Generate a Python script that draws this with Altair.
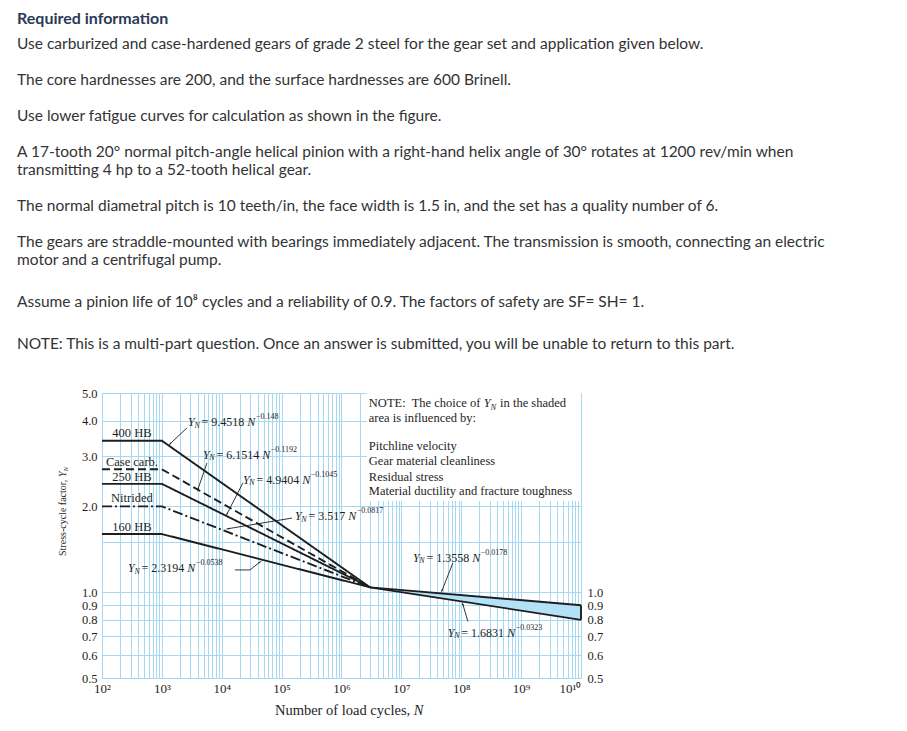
import math
import altair as alt
import pandas as pd

# ------------------------------------------------------------------ text block
HEADING = "Required information"
TEXT_LINES = [
    "Use carburized and case-hardened gears of grade 2 steel for the gear set and application given below.",
    "The core hardnesses are 200, and the surface hardnesses are 600 Brinell.",
    "Use lower fatigue curves for calculation as shown in the figure.",
    "A 17-tooth 20\u00b0 normal pitch-angle helical pinion with a right-hand helix angle of 30\u00b0 rotates at 1200 rev/min when",
    "transmitting 4 hp to a 52-tooth helical gear.",
    "The normal diametral pitch is 10 teeth/in, the face width is 1.5 in, and the set has a quality number of 6.",
    "The gears are straddle-mounted with bearings immediately adjacent. The transmission is smooth, connecting an electric",
    "motor and a centrifugal pump.",
    "Assume a pinion life of 10\u2078 cycles and a reliability of 0.9. The factors of safety are SF= SH= 1.",
    "NOTE: This is a multi-part question. Once an answer is submitted, you will be unable to return to this part.",
]

# ------------------------------------------------------------------ chart data
CURVE_NAMES = ["400 HB", "Case carb.", "250 HB", "Nitrided", "160 HB"]
CURVE_N = [1e2, 1e3, 3e6]                 # start, knee, junction
CURVE_PLATEAU = [3.40, 2.70, 2.40, 2.00, 1.60]
CURVE_JOIN_Y = 1.04
LIFE_N = [3e6, 1e10]
LIFE_UPPER = [1.04, 0.90]
LIFE_LOWER = [1.04, 0.80]

EQ_COEF = ["9.4518", "6.1514", "4.9404", "3.517", "2.3194", "1.3558", "1.6831"]
EQ_EXP = ["\u22120.148", "\u22120.1192", "\u22120.1045", "\u22120.0817", "\u22120.0538", "\u22120.0178", "\u22120.0323"]
EQ_N = [2.73e3, 4.85e3, 2.26e4, 1.67e5, 272, 1.56e7, 5.97e7]
EQ_Y = [3.95, 3.03, 2.48, 1.85, 1.216, 1.32, 0.72]

ARROW_N1 = [2.62e3, 5.66e3, 2.26e4, 1.49e5, 2.96e4, 7.24e7, 1.29e8]
ARROW_Y1 = [3.77, 2.84, 2.42, 1.82, 1.197, 1.266, 0.79]
ARROW_N2 = [1.36e3, 4.01e3, 1.22e4, 1.27e4, 4.35e4, 4.74e7, 1.06e8]
ARROW_Y2 = [3.31, 2.30, 1.88, 1.67, 1.277, 1.01, 0.909]
LEADER_N = [1.66e4, 2.96e4]
LEADER_Y = [1.197, 1.197]

LABEL_N = 316
LABEL_Y = [3.62, 2.87, 2.53, 2.14, 1.69]

NOTE_N = 2.86e6
NOTE_LINES = ["area is influenced by:", "Pitchline velocity", "Gear material cleanliness",
              "Residual stress", "Material ductility and fracture toughness"]
NOTE_Y = [4.61, 4.09, 3.26, 2.89, 2.54, 2.27]
NOTE_BOX = dict(N=2.65e6, N2=1e10, Y=2.09, Y2=5.0)

YTITLE_AT = (100, 1.34)
XTITLE_AT = (7.73e4, 0.5)

X_GRID = [m * 10 ** k for k in range(2, 10) for m in range(1, 10)] + [10 ** 10]
Y_GRID = [0.5, 0.6, 0.7, 0.8, 0.9, 1.0, 1.5, 2.0, 3.0, 4.0, 5.0]
Y_RIGHT = [0.5, 0.6, 0.7, 0.8, 0.9, 1.0]

# ------------------------------------------------------------------ styles
SERIF = "Liberation Serif"
SANS = "Lato"
INK = "#1e1e1e"
GRID = "#a6d8f1"
FILL = "#b3e2f6"
W, H = 479, 285
BLANK = "\u200b"

TIMES = {" ": 250, "\u00a0": 250, ",": 250, "-": 333, ".": 250, ":": 278, "=": 564, "\u2212": 564,
         "A": 722, "B": 667, "C": 667, "E": 611, "H": 722, "M": 889, "N": 722, "O": 722, "S": 556,
         "T": 611, "Y": 722, "a": 444, "b": 500, "c": 444, "d": 500, "e": 444, "f": 333, "g": 500,
         "h": 500, "i": 278, "l": 278, "m": 778, "n": 500, "o": 500, "r": 333, "s": 389, "t": 278,
         "u": 500, "y": 500}
TIMES_IT = {"Y": 556, "N": 667}


def tw(s, size, italic=False):
    tbl = TIMES_IT if italic else TIMES
    return sum(tbl.get(c, TIMES.get(c, 500)) for c in s) * size / 1000.0


sup = str.maketrans("0123456789", "\u2070\u00b9\u00b2\u00b3\u2074\u2075\u2076\u2077\u2078\u2079")
x_label_expr = " : ".join(
    f"datum.value == {10 ** k} ? '10{str(k).translate(sup)}'" for k in range(2, 11)
) + " : ''"

XS = alt.Scale(type="log", domain=[100, 1e10], nice=False)
YS = alt.Scale(type="log", domain=[0.5, 5], nice=False)
XAXIS = alt.Axis(values=X_GRID, labelExpr=x_label_expr, grid=True, gridColor=GRID, gridWidth=1,
                 ticks=False, domain=False, labelFont=SERIF, labelFontSize=13, labelColor=INK,
                 labelPadding=4, labelFlush=False, labelOverlap=False, title=None,
                 labelAlign={"condition": {"test": f"datum.value == {10 ** 10}", "value": "right"},
                             "value": "center"})
YAXIS = alt.Axis(values=Y_GRID, labelExpr="datum.value == 1.5 ? '' : format(datum.value, '.1f')",
                 grid=True, gridColor=GRID, gridWidth=1, ticks=False, domain=False,
                 labelFont=SERIF, labelFontSize=12.5, labelColor=INK, labelPadding=5,
                 labelOverlap=False, title=None)
RAXIS = alt.Axis(orient="right", values=Y_RIGHT, format=".1f", grid=False, ticks=False, domain=False,
                 labelFont=SERIF, labelFontSize=12.5, labelColor=INK, labelPadding=6,
                 labelOverlap=False, title=None)


def xe(f="N"):
    return alt.X(f"{f}:Q", scale=XS, axis=XAXIS)


def ye(f="Y"):
    return alt.Y(f"{f}:Q", scale=YS, axis=YAXIS)


layers = []

# white note box
layers.append(alt.Chart(pd.DataFrame([NOTE_BOX])).mark_rect(fill="white", stroke=None)
              .encode(x=xe(), x2="N2:Q", y=ye(), y2="Y2:Q"))

# shaded long-life band
life_wide = pd.DataFrame({"N": LIFE_N, "upper": LIFE_UPPER, "lower": LIFE_LOWER})
layers.append(alt.Chart(life_wide).mark_area(color=FILL, opacity=1)
              .encode(x=xe(), y=ye("upper"), y2="lower:Q"))

# hardness curves
rows = []
for name, plat in zip(CURVE_NAMES, CURVE_PLATEAU):
    for n, y in zip(CURVE_N, [plat, plat, CURVE_JOIN_Y]):
        rows.append({"curve": name, "N": n, "Y": y})
curves = pd.DataFrame(rows)
layers.append(alt.Chart(curves).mark_line(color=INK, strokeWidth=1.9).encode(
    x=xe(), y=ye(), detail="curve:N",
    strokeDash=alt.StrokeDash("curve:N", legend=None,
                              scale=alt.Scale(domain=CURVE_NAMES,
                                              range=[[1, 0], [8, 4], [1, 0], [10, 3, 2, 3], [1, 0]]))))

# lower bound line of the band
lower_df = pd.DataFrame({"N": LIFE_N, "Y": LIFE_LOWER})
layers.append(alt.Chart(lower_df).mark_line(color=INK, strokeWidth=1.9).encode(x=xe(), y=ye()))

# closing edge of the band at 1e10
edge = pd.DataFrame({"N": [LIFE_N[-1]], "Y": [LIFE_UPPER[-1]], "Y2": [LIFE_LOWER[-1]]})
layers.append(alt.Chart(edge).mark_rule(color=INK, strokeWidth=1.9).encode(x=xe(), y=ye(), y2="Y2:Q"))

# arrows
arr = pd.DataFrame({"N": ARROW_N1, "Y": ARROW_Y1, "N2": ARROW_N2, "Y2": ARROW_Y2})
layers.append(alt.Chart(arr).mark_rule(color=INK, strokeWidth=0.9)
              .encode(x=xe(), y=ye(), x2="N2:Q", y2="Y2:Q"))
lead = pd.DataFrame({"N": [LEADER_N[0]], "Y": [LEADER_Y[0]], "N2": [LEADER_N[1]], "Y2": [LEADER_Y[1]]})
layers.append(alt.Chart(lead).mark_rule(color=INK, strokeWidth=0.9)
              .encode(x=xe(), y=ye(), x2="N2:Q", y2="Y2:Q"))
px_x, px_y = W / 8.0, H / 1.0
angs = []
for n1, y1, n2, y2 in zip(ARROW_N1, ARROW_Y1, ARROW_N2, ARROW_Y2):
    ddx = px_x * (math.log10(n2) - math.log10(n1))
    ddy = -px_y * (math.log10(y2) - math.log10(y1))
    angs.append(math.degrees(math.atan2(ddx, -ddy)) % 360)
heads = pd.DataFrame({"N": ARROW_N2, "Y": ARROW_Y2, "ang": angs})
layers.append(alt.Chart(heads).mark_point(shape="wedge", filled=True, size=28, color=INK, opacity=1)
              .encode(x=xe(), y=ye(), angle=alt.Angle("ang:Q", scale=None)))

# ------------------------------------------------------------------ text pieces
pieces = []


def add(N, Y, t, dx=0.0, dy=0.0, size=12, italic=False, angle=0, align="left"):
    pieces.append(dict(N=N, Y=Y, t=t, dx=round(dx, 1), dy=round(dy, 1), size=size,
                       italic=italic, angle=angle, align=align))


for coef, ex, n, y in zip(EQ_COEF, EQ_EXP, EQ_N, EQ_Y):
    add(n, y, "Y", 0, 0, 12, True)
    x = tw("Y", 12, True) - 0.3
    add(n, y, "N", x, 3.5, 8, True)
    x += tw("N", 8, True) + 1.8
    s = "= " + coef
    add(n, y, s, x, 0, 12)
    x += tw(s + " ", 12)
    add(n, y, "N", x, 0, 12, True)
    x += tw("N", 12, True) + 0.6
    add(n, y, ex, x, -5, 8)

for name, y in zip(CURVE_NAMES, LABEL_Y):
    add(LABEL_N, y, name, 0, 0, 12.5, align="center")

FS_NOTE = 12.5
s1 = "NOTE:\u00a0 The choice of "
add(NOTE_N, NOTE_Y[0], s1.strip(), 0, 0, FS_NOTE)
x = tw(s1, FS_NOTE)
add(NOTE_N, NOTE_Y[0], "Y", x, 0, FS_NOTE, True)
x += tw("Y", FS_NOTE, True) - 0.3
add(NOTE_N, NOTE_Y[0], "N", x, 3.5, 8.5, True)
x += tw("N", 8.5, True) + tw(" ", FS_NOTE) + 1
add(NOTE_N, NOTE_Y[0], "in the shaded", x, 0, FS_NOTE)
for line, y in zip(NOTE_LINES, NOTE_Y[1:]):
    add(NOTE_N, y, line, 0, 0, FS_NOTE)

yt = "Stress-cycle factor, "
add(YTITLE_AT[0], YTITLE_AT[1], yt.strip(), 0, -39, 10, False, 270)
add(YTITLE_AT[0], YTITLE_AT[1], "Y", tw(yt, 10), -39, 10, True, 270)
add(YTITLE_AT[0], YTITLE_AT[1], "N", tw(yt, 10) + tw("Y", 10, True) - 0.3, -36.5, 7, True, 270)

xt = "Number of load cycles, "
add(XTITLE_AT[0], XTITLE_AT[1], xt.strip(), 0, 33, 14.5)
add(XTITLE_AT[0], XTITLE_AT[1], "N", tw(xt, 14.5), 33, 14.5, True)

pdf = pd.DataFrame(pieces)
for key, g in pdf.groupby(["dx", "dy", "size", "italic", "angle", "align"], sort=False):
    dx, dy, size, italic, angle, align = key
    layers.append(
        alt.Chart(g[["N", "Y", "t"]].reset_index(drop=True)).mark_text(
            align=align, baseline="middle", font=SERIF, fontSize=float(size),
            fontStyle="italic" if italic else "normal", dx=float(dx), dy=float(dy),
            angle=float(angle), color=INK)
        .encode(x=xe(), y=ye(), text="t:N"))

inner = alt.layer(*layers)

# upper bound line carries the right-hand axis
upper_df = pd.DataFrame({"N": LIFE_N, "Y": LIFE_UPPER})
right = alt.Chart(upper_df).mark_line(color=INK, strokeWidth=1.9).encode(
    x=xe(), y=alt.Y("Y:Q", scale=YS, axis=RAXIS))

# ------------------------------------------------------------------ subtitle (text block)
GAPS = [0, 6, 6, 6, 3, 6, 6, 3, 7, 7]      # spacing before each line, in 6-px steps
sub = []
for i, (line, gap) in enumerate(zip(TEXT_LINES, GAPS)):
    if i > 0:
        sub.extend([BLANK] * (gap - 1))
    sub.append(line)

chart = alt.layer(inner, right).resolve_scale(y="independent").properties(
    width=W, height=H,
    padding={"left": 9, "top": 2, "right": 5, "bottom": 5},
    title=alt.TitleParams(
        text=HEADING, subtitle=sub, anchor="start", frame="group", dx=-85,
        font=SANS, fontSize=16, fontWeight="bold", color="#2b3a58",
        subtitleFont=SANS, subtitleFontSize=15.5, subtitleColor="#333333",
        subtitleLineHeight=6, subtitlePadding=10, offset=35),
).configure_view(stroke="#8fcdec", strokeWidth=1)

chart.save("out.html", embed_options={"renderer": "svg", "actions": False})
